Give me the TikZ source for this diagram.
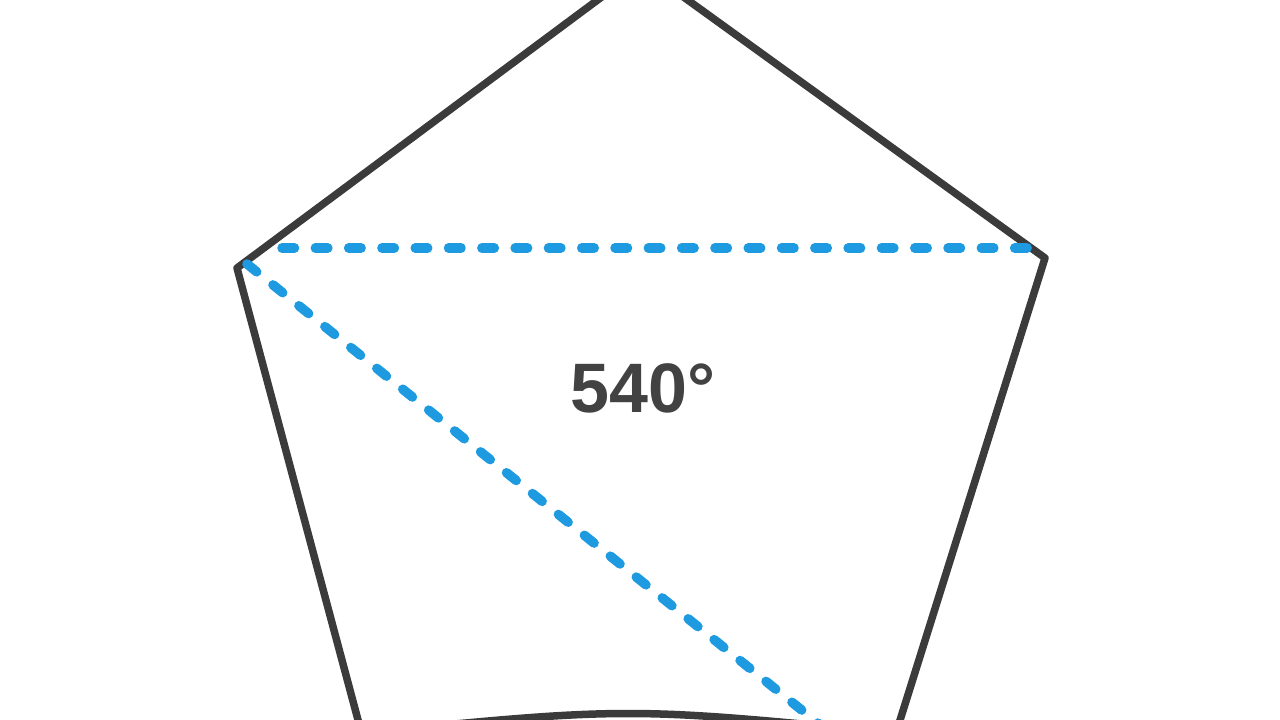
\documentclass[tikz,border=0pt]{standalone}
\usepackage{fontspec}
\setmainfont{Liberation Sans}
\definecolor{edgegray}{HTML}{3B3B3B}
\definecolor{diagblue}{HTML}{1E9BE0}
\definecolor{textgray}{HTML}{424242}
\begin{document}
\begin{tikzpicture}[x=1pt,y=-1pt,
  edge/.style={draw=edgegray,line width=7.5pt,line join=round},
  diag/.style={draw=diagblue,line width=9.5pt,line cap=round,dash pattern=on 12.5pt off 20.8pt},
  anglelabel/.style={text=textgray,font=\fontsize{70}{70}\selectfont\bfseries,inner sep=0pt}]
\useasboundingbox (0,0) rectangle (1280,720);
\clip (0,0) rectangle (1280,720);
\coordinate (T) at (642,-33);
\coordinate (R) at (1045,258);
\coordinate (BR) at (896,733);
\coordinate (BL) at (361.5,733);
\coordinate (L) at (237,268);
\coordinate (H1) at (282,248);
\coordinate (H2) at (1030,248);
\coordinate (D1) at (247,264);
\coordinate (D2) at (824,728);
\draw[edge] (L) -- (T) -- (R) -- (BR) .. controls (628,707) .. (BL) -- cycle;
\draw[diag] (H1) -- (H2);
\draw[diag] (D1) -- (D2);
\node[anglelabel] (ang) at (643,388) {540°};
\end{tikzpicture}
\end{document}
